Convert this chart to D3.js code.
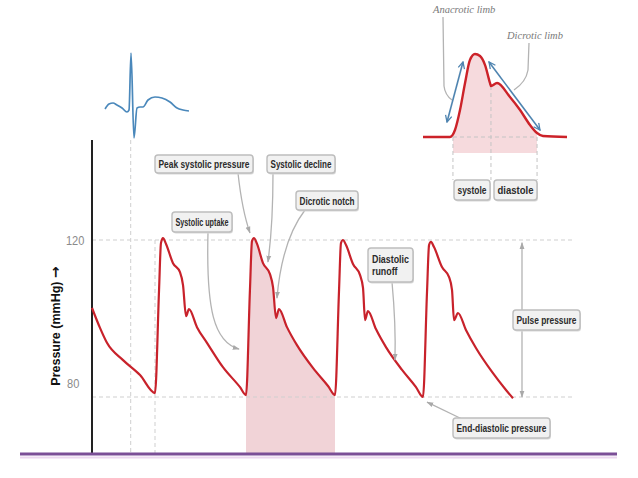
<!DOCTYPE html>
<html>
<head>
<meta charset="utf-8">
<script src="https://cdn.jsdelivr.net/npm/d3@7"></script>
<style>
  html, body { margin: 0; padding: 0; background: #fff; }
  svg { display: block; }
  .box text { font-family: "Liberation Sans", Arial, sans-serif; font-weight: bold; font-size: 10.8px; fill: #2b2b2b; }
</style>
</head>
<body>
<script>
const width = 638, height = 478;

// Arterial pressure trace: time (s) and pressure (mmHg)
const traceT = [0.000, 0.071, 0.133, 0.276, 0.427, 0.560,
  0.596, 0.613, 0.631, 0.658, 0.720, 0.782, 0.809, 0.836, 0.862, 0.933, 1.022, 1.164, 1.316, 1.369,
  1.404, 1.422, 1.440, 1.467, 1.520, 1.582, 1.609, 1.636, 1.662, 1.733, 1.822, 1.964, 2.098, 2.160,
  2.196, 2.213, 2.231, 2.258, 2.320, 2.382, 2.409, 2.427, 2.453, 2.524, 2.613, 2.756, 2.880, 2.942,
  2.978, 2.996, 3.013, 3.040, 3.111, 3.173, 3.200, 3.218, 3.253, 3.324, 3.413, 3.556, 3.680, 3.742];
const traceP = [102.7, 97.6, 93.8, 89.4, 85.6, 81.0,
  107.3, 119.2, 120.5, 119.0, 114.1, 111.8, 108.5, 100.6, 102.4, 97.8, 93.8, 87.6, 82.5, 80.5,
  107.3, 119.7, 120.5, 119.0, 114.1, 111.3, 108.0, 100.1, 102.4, 97.8, 93.2, 87.4, 82.8, 80.5,
  107.3, 119.2, 120.0, 118.7, 113.9, 111.1, 107.8, 99.6, 101.9, 97.3, 92.7, 86.9, 82.5, 80.0,
  106.8, 118.7, 119.5, 118.2, 113.1, 110.6, 107.3, 99.6, 101.4, 97.1, 92.5, 86.4, 81.8, 79.7];

// ECG above the plot: time (s) and voltage (mV)
const ecgT = [0.116, 0.151, 0.187, 0.222, 0.267, 0.311, 0.329, 0.347, 0.373, 0.400, 0.427, 0.453, 0.498, 0.560, 0.622, 0.693, 0.756, 0.809, 0.862];
const ecgV = [0.00, 0.10, 0.12, 0.08, 0.02, -0.06, -0.02, 1.12, -0.58, 0.02, 0.04, 0.04, 0.18, 0.24, 0.22, 0.14, 0.02, -0.02, -0.04];

// Single pulse in the inset: normalised time and amplitude
const pulseU = [0, 0.1875, 0.222, 0.257, 0.292, 0.326, 0.361, 0.396, 0.431, 0.465, 0.472, 0.514, 0.604, 0.674, 0.743, 0.792, 0.833, 1.0];
const pulseA = [0, 0, 0.084, 0.325, 0.651, 0.928, 1.0, 0.976, 0.867, 0.652, 0.614, 0.651, 0.482, 0.325, 0.145, 0.048, 0.012, 0];

const yTicks = [80, 120];
const highlightCycle = [1.369, 2.160];   // shaded beat
const rPeakT = 0.344, firstMinT = 0.560;
const insetSystole = [0.208, 0.472, 0.792]; // start, notch, end

const trace = traceT.map((t, i) => [t, traceP[i]]);
const ecg = ecgT.map((t, i) => [t, ecgV[i]]);
const pulse = pulseU.map((u, i) => [u, pulseA[i]]);

const svg = d3.select("body").append("svg")
  .attr("width", width)
  .attr("height", height);

const defs = svg.append("defs");
defs.append("marker")
  .attr("id", "arrGray").attr("viewBox", "0 0 10 10")
  .attr("refX", 9).attr("refY", 5)
  .attr("markerWidth", 7).attr("markerHeight", 7)
  .attr("markerUnits", "userSpaceOnUse")
  .attr("orient", "auto-start-reverse")
  .append("path").attr("d", "M0,1.5L10,5L0,8.5z").attr("fill", "#a9a9a9");
defs.append("marker")
  .attr("id", "arrBlue").attr("viewBox", "0 0 10 10")
  .attr("refX", 9).attr("refY", 5)
  .attr("markerWidth", 8).attr("markerHeight", 8)
  .attr("markerUnits", "userSpaceOnUse")
  .attr("orient", "auto-start-reverse")
  .append("path").attr("d", "M1,1L9,5L1,9").attr("fill", "none")
  .attr("stroke", "#4f84b0").attr("stroke-width", 1.6);

// Scales
const plotLeft = 92, plotBottom = 453, gridRight = 572;
const x = d3.scaleLinear().domain([0, 4]).range([plotLeft, plotLeft + 450]);
const y = d3.scaleLinear().domain([80, 120]).range([397, 240]);
const ey = d3.scaleLinear().domain([0, 1]).range([109, 59]);
const ix = d3.scaleLinear().domain([0, 1]).range([423, 567]);
const iy = d3.scaleLinear().domain([0, 1]).range([137, 54]);

const line = d3.line().x(d => x(d[0])).y(d => y(d[1])).curve(d3.curveMonotoneX);
const area = d3.area().x(d => x(d[0])).y0(plotBottom).y1(d => y(d[1])).curve(d3.curveMonotoneX);

// Shaded beat
defs.append("clipPath").attr("id", "beatClip")
  .append("rect")
  .attr("x", x(highlightCycle[0])).attr("y", 0)
  .attr("width", x(highlightCycle[1]) - x(highlightCycle[0]))
  .attr("height", plotBottom);
svg.append("path")
  .datum(trace)
  .attr("clip-path", "url(#beatClip)")
  .attr("d", area)
  .attr("fill", "#f1d3d7");

// Gridlines
const grid = svg.append("g")
  .attr("stroke", "#cfcfcf").attr("stroke-width", 1).attr("stroke-dasharray", "4,3");
yTicks.forEach(v => {
  grid.append("line")
    .attr("x1", plotLeft).attr("x2", gridRight)
    .attr("y1", y(v)).attr("y2", y(v));
});
grid.append("line")
  .attr("x1", x(rPeakT)).attr("x2", x(rPeakT))
  .attr("y1", 140).attr("y2", plotBottom);
grid.append("line")
  .attr("x1", x(firstMinT)).attr("x2", x(firstMinT))
  .attr("y1", y(120)).attr("y2", plotBottom);

// Y axis
const yAxis = svg.append("g")
  .attr("transform", `translate(${plotLeft},0)`)
  .call(d3.axisLeft(y).tickValues(yTicks).tickSize(0).tickPadding(9));
yAxis.select(".domain").remove();
yAxis.selectAll("text")
  .attr("fill", "#8a8a8a")
  .style("font-family", "'Liberation Sans', sans-serif")
  .style("font-size", "13px")
  .attr("transform", "scale(0.85,1)");
yAxis.selectAll(".tick").filter(d => d === 80).select("text")
  .attr("transform", "translate(-5,-14) scale(0.85,1)");

svg.append("line")
  .attr("x1", plotLeft).attr("x2", plotLeft)
  .attr("y1", 140).attr("y2", 455)
  .attr("stroke", "#222").attr("stroke-width", 2);

const yLabel = svg.append("text")
  .attr("transform", "translate(60,326) rotate(-90)")
  .attr("text-anchor", "middle")
  .style("font-family", "'Liberation Sans', Arial, sans-serif")
  .style("font-weight", "bold")
  .style("font-size", "12.5px")
  .attr("fill", "#111");
yLabel.append("tspan").text("Pressure (mmHg) ");
yLabel.append("tspan").style("font-family", "'DejaVu Sans', sans-serif").style("font-size", "14px").text("\u2192");

// Bottom purple rule
svg.append("line")
  .attr("x1", 20).attr("x2", 617).attr("y1", 457.5).attr("y2", 457.5)
  .attr("stroke", "#ecd8ef").attr("stroke-width", 2);
svg.append("line")
  .attr("x1", 20).attr("x2", 617).attr("y1", 454).attr("y2", 454)
  .attr("stroke", "#7b4f97").attr("stroke-width", 3.2);

// Pressure trace
svg.append("path")
  .datum(trace)
  .attr("d", line)
  .attr("fill", "none")
  .attr("stroke", "#c8222b")
  .attr("stroke-width", 2.2)
  .attr("stroke-linejoin", "round");

// ECG
svg.append("path")
  .datum(ecg)
  .attr("d", d3.line().x(d => x(d[0])).y(d => ey(d[1])).curve(d3.curveMonotoneX))
  .attr("fill", "none")
  .attr("stroke", "#4a88bb")
  .attr("stroke-width", 1.7)
  .attr("stroke-linejoin", "round");

// Inset pulse
const ipArea = d3.area().x(d => ix(d[0])).y0(153).y1(d => iy(d[1])).curve(d3.curveMonotoneX);
defs.append("clipPath").attr("id", "insetClip")
  .append("rect")
  .attr("x", ix(insetSystole[0])).attr("y", 0)
  .attr("width", ix(insetSystole[2]) - ix(insetSystole[0]))
  .attr("height", 153);
svg.append("path")
  .datum(pulse)
  .attr("clip-path", "url(#insetClip)")
  .attr("d", ipArea)
  .attr("fill", "#f6dadd");

const ig = svg.append("g")
  .attr("stroke", "#c4c4c4").attr("stroke-width", 1).attr("stroke-dasharray", "4,3");
ig.append("line").attr("x1", ix(insetSystole[0])).attr("x2", ix(insetSystole[2])).attr("y1", iy(0)).attr("y2", iy(0));
ig.append("line").attr("x1", ix(insetSystole[0])).attr("x2", ix(insetSystole[0])).attr("y1", iy(0)).attr("y2", 180);
ig.append("line").attr("x1", ix(insetSystole[2])).attr("x2", ix(insetSystole[2])).attr("y1", iy(0)).attr("y2", 180);
ig.append("line").attr("x1", ix(insetSystole[1])).attr("x2", ix(insetSystole[1])).attr("y1", iy(0.614)).attr("y2", 180);

svg.append("path")
  .datum(pulse)
  .attr("d", d3.line().x(d => ix(d[0])).y(d => iy(d[1])).curve(d3.curveMonotoneX))
  .attr("fill", "none")
  .attr("stroke", "#cc2229")
  .attr("stroke-width", 2.4);

// Limb arrows
svg.append("line")
  .attr("x1", 447).attr("y1", 122).attr("x2", 463).attr("y2", 62)
  .attr("stroke", "#4f84b0").attr("stroke-width", 1.6)
  .attr("marker-start", "url(#arrBlue)").attr("marker-end", "url(#arrBlue)");
svg.append("line")
  .attr("x1", 489).attr("y1", 62).attr("x2", 540).attr("y2", 130)
  .attr("stroke", "#4f84b0").attr("stroke-width", 1.6)
  .attr("marker-start", "url(#arrBlue)").attr("marker-end", "url(#arrBlue)");

const limbText = svg.append("g")
  .style("font-family", "'Liberation Serif', 'DejaVu Serif', serif")
  .style("font-style", "italic")
  .style("font-size", "10.5px")
  .attr("fill", "#7a7a7a");
limbText.append("text").attr("x", 433).attr("y", 13).text("Anacrotic limb");
limbText.append("text").attr("x", 507).attr("y", 39).text("Dicrotic limb");

// Leader lines
const leaders = svg.append("g")
  .attr("fill", "none").attr("stroke", "#b3b3b3").attr("stroke-width", 1.3);
leaders.append("path").attr("d", "M443,17 L444,86 Q445,95 452,100");
leaders.append("path").attr("d", "M529,43 L528,70 Q526,82 514,90");

leaders.append("path").attr("d", `M238,173 Q242,210 ${x(1.404)},${y(121.8)}`).attr("marker-end", "url(#arrGray)");
leaders.append("path").attr("d", `M273,173 Q273,225 ${x(1.564)},${y(114.4)}`).attr("marker-end", "url(#arrGray)");
leaders.append("path").attr("d", `M305,210 Q282,240 ${x(1.644)},${y(105.2)}`).attr("marker-end", "url(#arrGray)");
leaders.append("path").attr("d", `M208,232 C206,310 214,342 ${x(1.307)},${y(92.2)}`).attr("marker-end", "url(#arrGray)");
leaders.append("path").attr("d", `M392,282 Q396,325 ${x(2.693)},${y(89.4)}`).attr("marker-end", "url(#arrGray)");
leaders.append("path").attr("d", `M462,419 L${x(2.978)},${y(78.7)}`).attr("marker-end", "url(#arrGray)");
leaders.append("line")
  .attr("x1", 522).attr("x2", 522).attr("y1", y(119.3)).attr("y2", y(80))
  .attr("marker-start", "url(#arrGray)").attr("marker-end", "url(#arrGray)");

// Callout boxes (condensed text squeezed to fit)
function box(x0, y0, w, h, lines, align) {
  const g = svg.append("g").attr("class", "box");
  g.append("rect")
    .attr("x", x0 + 1).attr("y", y0 + 1.5).attr("width", w).attr("height", h)
    .attr("rx", 3).attr("fill", "#d8d8d8");
  g.append("rect")
    .attr("x", x0).attr("y", y0).attr("width", w).attr("height", h)
    .attr("rx", 3).attr("fill", "#f1f1f1").attr("stroke", "#bdbdbd").attr("stroke-width", 1.4);
  const lh = 12.5;
  const startY = y0 + h / 2 - (lines.length - 1) * lh / 2 + 4;
  lines.forEach((s, i) => {
    const t = g.append("text")
      .attr("text-anchor", align === "left" ? "start" : "middle")
      .attr("x", align === "left" ? x0 + 4 : x0 + w / 2)
      .attr("y", startY + i * lh)
      .text(s);
    const natural = t.node().getComputedTextLength();
    const target = align === "left" ? natural * 0.82 : Math.min(natural, w - 7);
    t.attr("textLength", target).attr("lengthAdjust", "spacingAndGlyphs");
  });
}

box(155, 155, 98, 18, ["Peak systolic pressure"]);
box(267, 155, 68, 18, ["Systolic decline"]);
box(296, 191, 62, 19, ["Dicrotic notch"]);
box(172, 212, 60, 20, ["Systolic uptake"]);
box(368, 248, 45, 34, ["Diastolic", "runoff"], "left");
box(513, 310, 67, 20, ["Pulse pressure"]);
box(453, 418, 97, 20, ["End-diastolic pressure"]);
box(454, 180, 36, 20, ["systole"]);
box(494, 180, 43, 20, ["diastole"]);
</script>
</body>
</html>
